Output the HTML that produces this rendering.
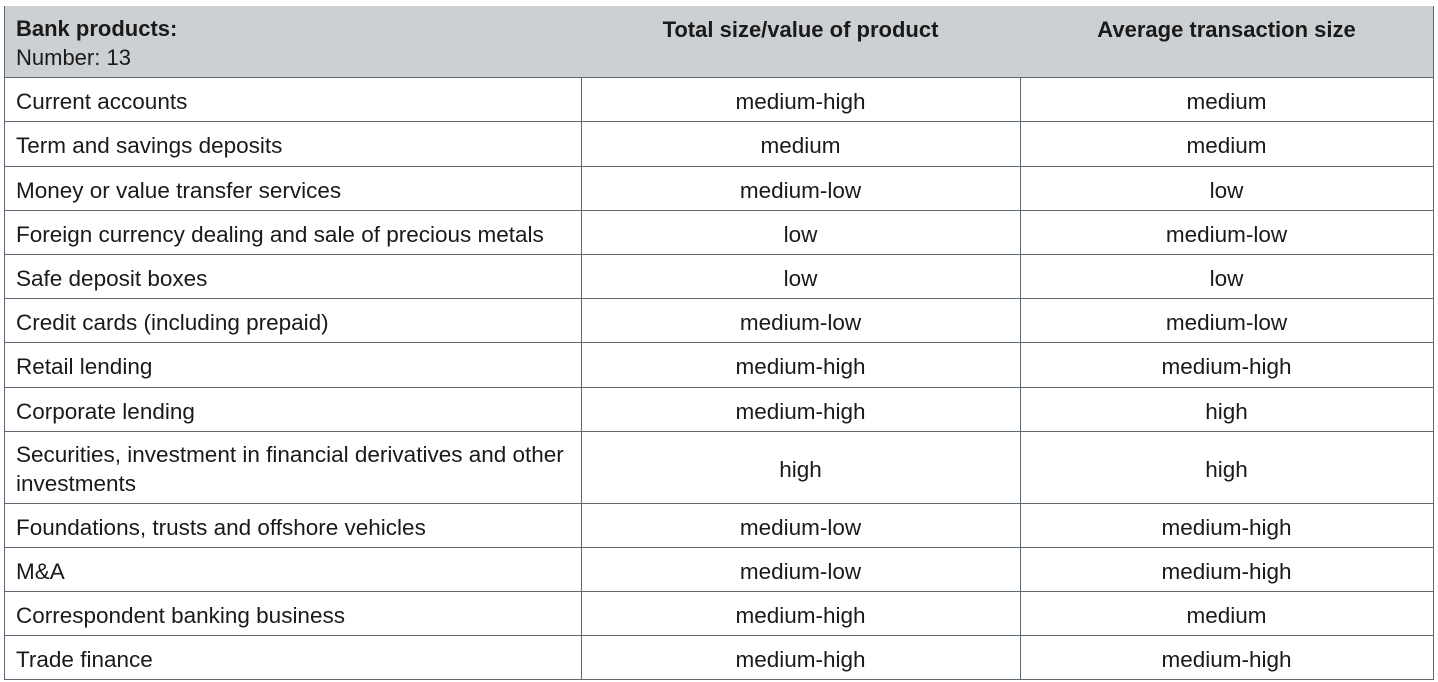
<!DOCTYPE html>
<html><head><style>
body{margin:0;width:1438px;height:682px;background:#fff;position:relative;overflow:hidden;font-family:"Liberation Sans",sans-serif;color:#1a1a1a}
.c{position:absolute;display:flex;align-items:center;box-sizing:border-box;font-size:22.5px;line-height:29px;border-right:1px solid #5f6870;border-bottom:1px solid #5f6870}
.c>*{position:relative;top:2px}
.l{padding-left:11px}
.m{justify-content:center;text-align:center}
.h{background:#cdd0d3}
b{font-weight:bold}
</style></head><body>
<div style="position:absolute;left:4px;top:6px;width:1429px;height:674px;border-left:1px solid #5f6870;border-top:1px solid #5f6870;box-sizing:border-box"></div>
<div id="t"></div>
<script>
var rows=[["Current accounts","medium-high","medium"],["Term and savings deposits","medium","medium"],["Money or value transfer services","medium-low","low"],["Foreign currency dealing and sale of precious metals","low","medium-low"],["Safe deposit boxes","low","low"],["Credit cards (including prepaid)","medium-low","medium-low"],["Retail lending","medium-high","medium-high"],["Corporate lending","medium-high","high"],["Securities, investment in financial derivatives and other investments","high","high"],["Foundations, trusts and offshore vehicles","medium-low","medium-high"],["M&amp;A","medium-low","medium-high"],["Correspondent banking business","medium-high","medium"],["Trade finance","medium-high","medium-high"]];
var ys=[77,121,166,210,254,298,342,387,431,503,547,591,635,679];
var xs=[5,581,1020,1433];
var h='';
function cell(x0,x1,y0,y1,cls,txt){h+='<div class="c '+cls+'" style="left:'+x0+'px;top:'+y0+'px;width:'+(x1-x0+1)+'px;height:'+(y1-y0+1)+'px">'+txt+'</div>';}
cell(xs[0],xs[1],6,77,'l h','<div style="font-size:22px;top:1px"><b>Bank products:</b><br>Number: 13</div>');
cell(xs[1],xs[2],6,77,'m h','<b style="top:-12px;font-size:22px">Total size/value of product</b>');
cell(xs[2],xs[3],6,77,'m h','<b style="top:-12px;font-size:22px">Average transaction size</b>');
for(var i=0;i<rows.length;i++){
cell(xs[0],xs[1],ys[i],ys[i+1],'l','<div style="padding-right:8px">'+rows[i][0]+'</div>');
cell(xs[1],xs[2],ys[i],ys[i+1],'m','<span>'+rows[i][1]+'</span>');
cell(xs[2],xs[3],ys[i],ys[i+1],'m','<span>'+rows[i][2]+'</span>');}
document.getElementById('t').innerHTML=h;
</script>
</body></html>
